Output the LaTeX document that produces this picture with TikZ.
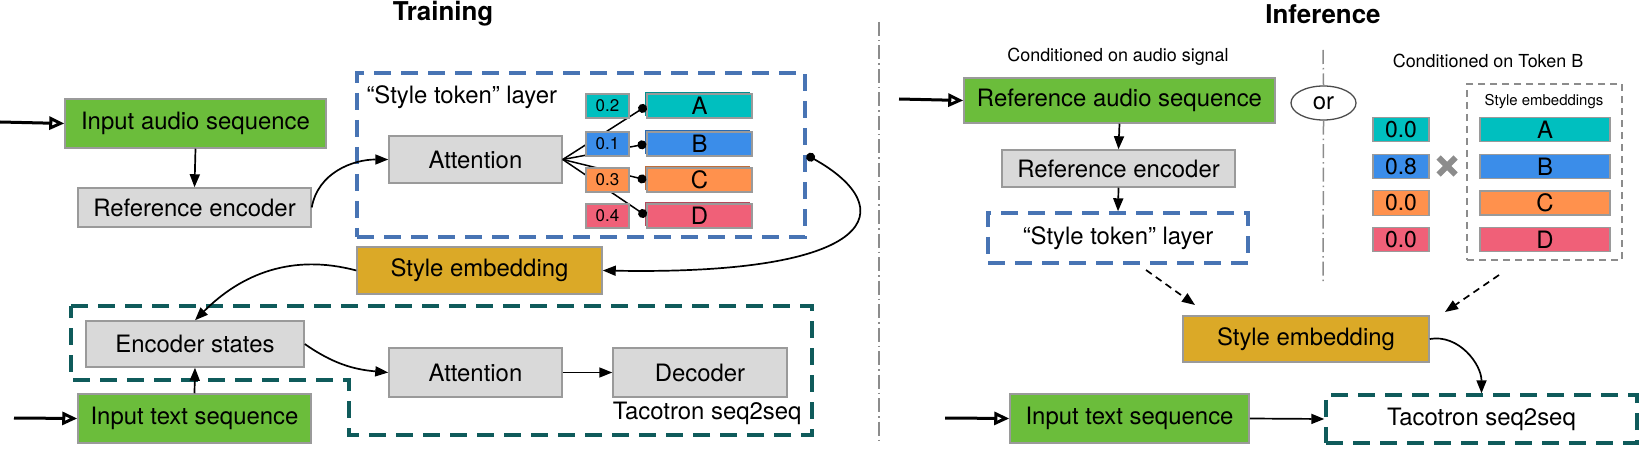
\documentclass[tikz,border=0pt]{standalone}
\usepackage{fontspec}
\setmainfont{TeX Gyre Heros}
\usetikzlibrary{arrows.meta, calc, shapes.geometric, shadows}

\definecolor{ingreen}{HTML}{6BBD3B}
\definecolor{boxgray}{HTML}{D9D9D9}
\definecolor{edgegray}{HTML}{9A9A9A}
\definecolor{embgold}{HTML}{DBA927}
\definecolor{colA}{HTML}{00BFBF}
\definecolor{colB}{HTML}{3B8DE9}
\definecolor{colC}{HTML}{FF914D}
\definecolor{colD}{HTML}{F06078}
\definecolor{stlblue}{HTML}{4874B4}
\definecolor{tacoteal}{HTML}{0F5B5B}
\definecolor{divgray}{HTML}{8C8C8C}

\tikzset{
  blk/.style={draw=edgegray, line width=1.5bp, fill=#1, inner sep=0pt, font=\fontsize{24}{28}\selectfont},
  wgt/.style={draw=edgegray, line width=1.3bp, fill=#1, inner sep=0pt, minimum width=43bp, minimum height=24bp, font=\fontsize{17}{20}\selectfont},
  tokbar/.style={draw=edgegray, line width=1.3bp, fill=#1, inner sep=0pt, minimum width=105bp, minimum height=24bp, font=\fontsize{24}{28}\selectfont,
    general shadow={shadow xshift=-2bp, shadow yshift=2bp, fill=#1!75!black}},
  dashblue/.style={draw=stlblue, line width=3.4bp, dash pattern=on 17bp off 10bp},
  dashteal/.style={draw=tacoteal, line width=3.4bp, dash pattern=on 17bp off 10bp},
  conn/.style={line width=1.7bp, -{Triangle[length=13bp, width=10bp]}},
  dashconn/.style={conn, dash pattern=on 7bp off 5bp},
  fanline/.style={line width=1.5bp, -{Circle[length=9bp]}},
  inarrow/.style={line width=3bp, -{Triangle[open, length=15bp, width=13bp]}},
  divline/.style={draw=divgray, line width=1.5bp, dash pattern=on 14bp off 4bp on 1.5bp off 4bp},
  heading/.style={font=\fontsize{26}{30}\selectfont\bfseries},
  smalltxt/.style={font=\fontsize{18}{22}\selectfont}
}

\begin{document}
\begin{tikzpicture}[x=1bp, y=1bp]
\useasboundingbox (0,0) rectangle (1639,-450);

% titles and dividers
\node[heading] (ttrain) at (443,-14) {Training};
\node[heading] (tinfer) at (1323,-14) {Inference};
\draw[divline] (879,-22) -- (879,-440);

%.... Training
\node[dashblue, minimum width=448bp, minimum height=164bp] (stl) at (581,-155) {};
\node[anchor=west, font=\fontsize{24}{28}\selectfont] (stllabel) at (363,-97) {“Style token” layer};
\draw[dashteal] (71,-306) -- (812,-306) -- (812,-435) -- (349,-435) -- (349,-380) -- (71,-380) -- cycle;
\node[anchor=east, font=\fontsize{24}{28}\selectfont] (tacolabel) at (805,-413) {Tacotron seq2seq};

\node[blk=ingreen, minimum width=261bp, minimum height=49bp] (inaudio) at (195.5,-123.5) {Input audio sequence};
\node[blk=boxgray, minimum width=233bp, minimum height=39bp] (refenc) at (194.5,-207.5) {Reference encoder};
\node[blk=boxgray, minimum width=173bp, minimum height=47bp] (att1) at (475.5,-159.5) {Attention};
\node[blk=embgold, minimum width=245bp, minimum height=47bp] (stemb) at (479.5,-270.5) {Style embedding};
\node[blk=boxgray, minimum width=218bp, minimum height=46bp] (encst) at (195,-344) {Encoder states};
\node[blk=boxgray, minimum width=173bp, minimum height=49bp] (att2) at (475.5,-372.5) {Attention};
\node[blk=boxgray, minimum width=174bp, minimum height=49bp] (dec) at (700,-372.5) {Decoder};
\node[blk=ingreen, minimum width=233bp, minimum height=49bp] (intext) at (194.5,-418.5) {Input text sequence};

\foreach \t/\yy in {A/106, B/144, C/180, D/216}
  \node[tokbar=col\t] (tok\t) at (699.5,-\yy) {\t};
\foreach \t in {A,B,C,D}
  \draw[fanline] (att1.east) -- (tok\t.west);
\foreach \t/\w/\yy in {A/0.2/106, B/0.1/144, C/0.3/180, D/0.4/216}
  \node[wgt=col\t] (w\t) at (607.5,-\yy) {\w};

\coordinate (srcaudio) at (0,-122);
\coordinate (srctext) at (14,-418);
\draw[inarrow] (srcaudio) -- (inaudio.west);
\draw[inarrow] (srctext) -- (intext.west);
\draw[conn] (inaudio.south) -- (refenc.north);
\draw[conn] (refenc.east) to[out=80, in=180] (att1.west);
\draw[{Circle[length=9bp]}-{Triangle[length=13bp, width=10bp]}, line width=1.7bp]
  (stl.east) .. controls +(95,-53) and +(278,-5) .. (stemb.east);
\draw[conn] (stemb.west) to[out=165, in=45] (encst.north);
\draw[conn] (intext.north) -- (encst.south);
\draw[conn] (encst.east) to[out=-35, in=175] (att2.west);
\draw[conn] (att2.east) -- (dec.west);

%.... Inference
\node[smalltxt] (condaudio) at (1118,-57) {Conditioned on audio signal};
\node[smalltxt] (condtok) at (1488,-61) {Conditioned on Token B};
\node[draw=black!70, line width=1.3bp, ellipse, minimum width=65bp, minimum height=34bp, inner sep=0pt, font=\fontsize{24}{28}\selectfont] (orsep) at (1323.5,-103) {or};
\draw[divline] (1323,-50) -- (orsep.north);
\draw[divline] (orsep.south) -- (1323,-282);

\node[blk=ingreen, minimum width=311bp, minimum height=45bp] (refaudio) at (1119.5,-100.5) {Reference audio sequence};
\node[blk=boxgray, minimum width=233bp, minimum height=37bp] (refenc2) at (1118.5,-168.5) {Reference encoder};
\node[dashblue, fill=white, inner sep=0pt, minimum width=260bp, minimum height=50bp, font=\fontsize{24}{28}\selectfont] (stl2) at (1118,-238) {“Style token” layer};
\node[blk=embgold, minimum width=246bp, minimum height=46bp] (stemb2) at (1306,-339) {Style embedding};
\node[blk=ingreen, minimum width=239bp, minimum height=49bp] (intext2) at (1129.5,-418.5) {Input text sequence};
\node[dashteal, fill=white, inner sep=0pt, minimum width=311bp, minimum height=48bp, font=\fontsize{24}{28}\selectfont] (taco2) at (1481.5,-419) {Tacotron seq2seq};

\node[draw=divgray, line width=1.3bp, dash pattern=on 7bp off 5bp, minimum width=155bp, minimum height=176bp] (embset) at (1544.5,-172) {};
\node[font=\fontsize{15}{18}\selectfont] (embsetlabel) at (1544,-102) {Style embeddings};
\foreach \t/\w/\yy in {A/0.0/129.5, B/0.8/166.5, C/0.0/203, D/0.0/239.5} {
  \node[blk=col\t, line width=1.3bp, minimum width=56bp, minimum height=24.5bp, font=\fontsize{23}{26}\selectfont] (ew\t) at (1401,-\yy) {\w};
  \node[blk=col\t, line width=1.3bp, minimum width=130bp, minimum height=24bp] (ebar\t) at (1545,-\yy) {\t};
}
\draw[line width=6bp, draw=divgray] (1438.5,-157.5) -- (1455.5,-174.5) (1438.5,-174.5) -- (1455.5,-157.5);

\coordinate (srcref) at (899,-99);
\coordinate (srctext2) at (945,-418);
\coordinate (d1s) at (1146,-270);
\coordinate (d1e) at (1195,-305);
\coordinate (d2s) at (1499,-275);
\coordinate (d2e) at (1445,-312);
\draw[inarrow] (srcref) -- (refaudio.west);
\draw[inarrow] (srctext2) -- (intext2.west);
\draw[conn] (refaudio.south) -- (refenc2.north);
\draw[conn] (refenc2.south) -- (stl2.north);
\draw[dashconn] (d1s) -- (d1e);
\draw[dashconn] (d2s) -- (d2e);
\draw[conn] (stemb2.east) to[out=10, in=90] (taco2.north);
\draw[conn] (intext2.east) -- (taco2.west);
\end{tikzpicture}
\end{document}
